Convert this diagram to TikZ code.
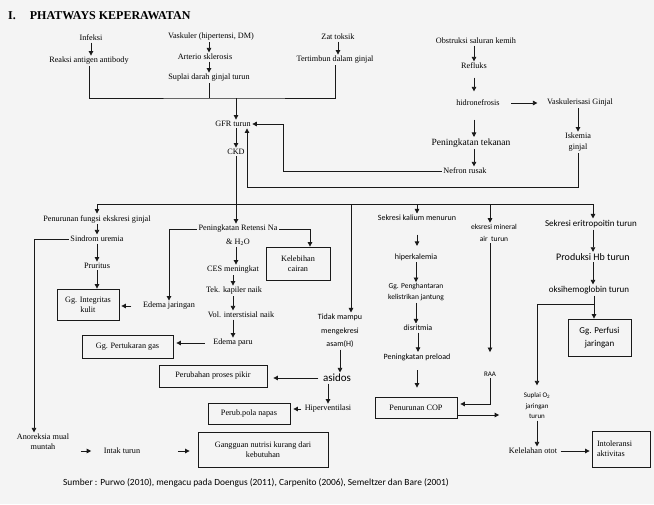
\documentclass[tikz,border=0pt]{standalone}
\usepackage{fontspec}
\setmainfont{Liberation Serif}
\newfontfamily\calfnt{Carlito}
\usetikzlibrary{arrows.meta,calc}
\definecolor{bgc}{RGB}{244,244,244}
\definecolor{lnc}{RGB}{25,25,25}
\begin{document}
\begin{tikzpicture}[x=1pt,y=-1pt,
  t/.style={font=\fontsize{8.2}{10}\selectfont, inner sep=1.5pt, align=center},
  s/.style={font=\calfnt\fontsize{8}{11}\selectfont, inner sep=1.5pt, align=center},
  bx/.style={draw=lnc, line width=0.8pt, inner sep=2pt, align=center},
  ln/.style={draw=lnc, line width=0.8pt},
  arr/.style={ln, -{Triangle[length=4.5pt,width=4.5pt]}}]
\fill[bgc] (0,0) rectangle (654,504);
\useasboundingbox (0,0) rectangle (654,504);

\node[anchor=west, font=\bfseries\fontsize{12}{14}\selectfont, inner sep=0] (title) at (8,16) {I.\hspace{14pt}PHATWAYS KEPERAWATAN};

% top part
\node[t] (inf) at (91,38) {Infeksi};
\node[t] (rea) at (89,61) {Reaksi antigen antibody};
\node[t] (vas) at (211,37) {Vaskuler (hipertensi, DM)};
\node[t] (art) at (205,57) {Arterio sklerosis};
\node[t] (sup) at (209,78) {Suplai darah ginjal turun};
\node[t] (zat) at (338,37) {Zat toksik};
\node[t] (ter) at (335,60) {Tertimbun dalam ginjal};
\node[t] (obs) at (476,41) {Obstruksi saluran kemih};
\node[t] (ref) at (474,66) {Refluks};
\node[t] (hid) at (478,103) {hidronefrosis};
\node[t] (vsg) at (580,103) {Vaskulerisasi Ginjal};
\node[t, font=\fontsize{9.5}{11}\selectfont] (pen) at (471,143) {Peningkatan tekanan};
\node[t] (nef) at (465,171) {Nefron rusak};
\node[t, font=\fontsize{8.2}{11}\selectfont] (isk) at (578,142.5) {Iskemia\\ginjal};
\node[t] (gfr) at (233,124) {GFR turun};
\node[t] (ckd) at (236,152) {CKD};

\coordinate (jtop) at (236,98);
\coordinate (jmid) at (236,204);
\coordinate (jr) at (283,124);
\coordinate (jb) at (247,187);

\draw[arr] (inf.south) -- (inf.south |- rea.north);
\draw[arr] (vas.south -| sup) -- (sup |- art.north);
\draw[arr] (art.south -| sup) -- (sup.north);
\draw[arr] (zat.south) -- (zat.south |- ter.north);
\draw[arr] (obs.south -| ref) -- (ref.north);
\draw[arr, shorten <=7pt, shorten >=7pt] (ref.south) -- (ref.south |- hid.north);
\draw[arr, shorten <=10pt, shorten >=8pt] (hid.east) -- (vsg.west);
\draw[arr, shorten <=12pt] (hid.south -| ref) -- (ref |- pen.north);
\draw[arr] (pen.south -| ref) -- (ref |- nef.north);
\draw[arr] (vsg.south -| isk) -- (isk.north);
\draw[ln] (rea.south) |- (jtop) -| (ter.south);
\draw[ln] (sup.south) -- (sup.south |- jtop);
\draw[arr] (jtop) -- (jtop |- gfr.north);
\draw[arr] (gfr.south -| ckd) -- (ckd.north);
\draw[arr] (nef.west) -| (jr) -- (gfr.east);
\draw[arr] (isk.south) |- (jb) -- (jb |- gfr.south);
\draw[ln] (ckd.south) -- (jmid);

% left column
\node[t] (pfe) at (97,219) {Penurunan fungsi ekskresi ginjal};
\node[t] (sur) at (97,239) {Sindrom uremia};
\node[t] (pru) at (97,266) {Pruritus};
\node[bx, t, minimum width=62pt, minimum height=31pt] (gik) at (88,304.5) {Gg. Integritas\\kulit};
\node[t] (anor) at (43,442) {Anoreksia mual\\muntah};
\node[t] (int) at (122,451) {Intak turun};
\node[bx, t, minimum width=130pt, minimum height=35pt] (gnk) at (263,449.5) {Gangguan nutrisi kurang dari\\kebutuhan};

% middle column
\node[t] (pre1) at (238,229) {Peningkatan Retensi Na};
\node[t] (pre2) at (238,242) {\& H\textsubscript{2}O};
\node[bx, t, minimum width=64pt, minimum height=33pt] (keb) at (298,263.5) {Kelebihan\\cairan};
\node[t] (ces) at (233,270) {CES meningkat};
\node[t] (tkn) at (234,291) {Tek. kapiler naik};
\node[t] (vin) at (241,315) {Vol. interstisial naik};
\node[t] (edp) at (233,343) {Edema paru};
\node[t] (edj) at (169,306) {Edema jaringan};
\node[bx, t, minimum width=91pt, minimum height=23pt] (gpg) at (127.5,346.5) {Gg. Pertukaran gas};
\node[bx, t, minimum width=108pt, minimum height=22pt] (ppp) at (213,376) {Perubahan proses pikir};
\node[s, font=\calfnt\fontsize{8}{13.5}\selectfont] (tdk) at (340,331) {Tidak mampu\\mengekresi\\asam(H)};
\node[s, font=\calfnt\fontsize{11}{13}\selectfont] (asi) at (337,378) {asidos};
\node[t] (hip) at (328,409) {Hiperventilasi};
\node[bx, t, minimum width=82pt, minimum height=21pt] (ppn) at (249,413.5) {Perub.pola napas};

% right columns
\node[s] (skm) at (417,218) {Sekresi kalium menurun};
\node[s] (hpk) at (416,257) {hiperkalemia};
\node[s, font=\calfnt\fontsize{7.5}{11}\selectfont] (gph) at (416,292.5) {Gg. Penghantaran\\kelistrikan jantung};
\node[s] (dis) at (418,328) {disritmia};
\node[s] (pnp) at (417,357) {Peningkatan preload};
\node[bx, t, minimum width=82pt, minimum height=21pt] (cop) at (416,407.5) {Penurunan COP};
\node[s, font=\calfnt\fontsize{7.5}{12}\selectfont] (emi) at (494,233) {eksresi mineral\\air\ \ turun};
\node[s, font=\calfnt\fontsize{7}{9}\selectfont] (raa) at (490,374) {RAA};
\node[s, font=\calfnt\fontsize{9}{11}\selectfont] (ser) at (591,224) {Sekresi eritropoitin turun};
\node[s, font=\calfnt\fontsize{10}{12}\selectfont] (phb) at (593,257) {Produksi Hb turun};
\node[s, font=\calfnt\fontsize{9}{11}\selectfont] (oks) at (589,290) {oksihemoglobin turun};
\node[bx, s, font=\calfnt\fontsize{9}{13}\selectfont, minimum width=63pt, minimum height=37pt] (gpj) at (599.5,337.5) {Gg. Perfusi\\jaringan};
\node[s, font=\calfnt\fontsize{7}{10.5}\selectfont] (spo) at (537,406) {Suplai O\textsubscript{2}\\jaringan\\turun};
\node[t] (kot) at (533,451) {Kelelahan otot};
\node[bx, t, align=left, inner xsep=5pt, text width=48pt, minimum height=36pt] (iak) at (621,449) {Intoleransi\\aktivitas};

\node[s, font=\calfnt\fontsize{9.4}{11}\selectfont] (src) at (256,483) {Sumber : Purwo (2010), mengacu pada Doengus (2011), Carpenito (2006), Semeltzer dan Bare (2001)};

% lower connectors
\draw[arr] (jmid) -| (pfe.north);
\draw[arr] (jmid) -- (jmid |- pre1.north);
\draw[arr] (jmid) -| ($(tdk.north)+(11,0)$);
\draw[arr] (jmid) -| (skm.north);
\draw[arr] (jmid) -| (emi.north -| raa);
\draw[arr] (jmid) -| (ser.north -| phb);
\draw[arr] (pfe.south) -- (sur.north);
\draw[arr] (sur.south) -- (pru.north);
\draw[arr] (pru.south) -- (pru.south |- gik.north);
\draw[arr] (sur.west) -| ($(anor.north)+(-9,0)$);
\draw[arr, shorten <=10pt, shorten >=11pt] (anor.east |- int) -- (int.west);
\draw[arr, shorten <=36pt, shorten >=8pt] (int.east) -- (gnk.west |- int.east);

\draw[arr] (pre1.west) -| (edj.north);
\draw[arr] (pre1.east) -| ($(keb.north)+(12,0)$);
\draw[arr] (pre2.south -| jmid) -- (jmid |- ces.north);
\draw[arr] (ces.south) -- (ces.south |- tkn.north);
\draw[arr] (tkn.south -| ces) -- (ces |- vin.north);
\draw[arr] (vin.south -| edp) -- (edp.north);
\draw[arr, shorten <=10pt, shorten >=2pt] (edj.west) -- (gik.east |- edj.west);
\draw[arr, shorten <=7pt, shorten >=3pt] (edp.west) -- (gpg.east |- edp.west);
\draw[arr, shorten <=3pt, shorten >=6pt] (asi.west) -- (ppp.east |- asi.west);
\draw[arr] (tdk.south) -- (tdk.south |- asi.north);
\draw[arr] (asi.south -| hip) -- (hip.north);
\draw[arr, shorten <=2pt, shorten >=3pt] (hip.west) -- (ppn.east |- hip.west);

\draw[arr, shorten <=12pt, shorten >=6pt] (skm.south) -- (skm.south |- hpk.north);
\draw[arr] (hpk.south) -- (hpk.south |- gph.north);
\draw[arr] (gph.south) -- (gph.south |- dis.north);
\draw[arr] (dis.south) -- (dis.south |- pnp.north);
\draw[arr, shorten <=8pt, shorten >=9pt] (pnp.south) -- (pnp.south |- cop.north);
\draw[arr, shorten >=18pt] (emi.south -| raa) -- (raa.north);
\draw[arr] (raa.south) |- ($(cop.east)+(3,-3.5)$);
\coordinate (copout) at ($(cop.east)+(0,7.5)$);
\draw[arr, shorten >=23pt] (copout) -- (spo.west |- copout);
\draw[arr] (ser.south -| phb) -- (phb.north);
\draw[arr] (phb.south) -- (phb.south |- oks.north);
\coordinate (joks) at (594,304);
\draw[arr] (oks.south -| joks) -- (joks |- gpj.north);
\draw[arr, shorten >=6pt] (joks) -| (spo.north);
\draw[arr] (spo.south) -- (spo.south |- kot.north);
\draw[arr, shorten <=2pt, shorten >=2pt] (kot.east) -- (iak.west |- kot.east);
\end{tikzpicture}
\end{document}
